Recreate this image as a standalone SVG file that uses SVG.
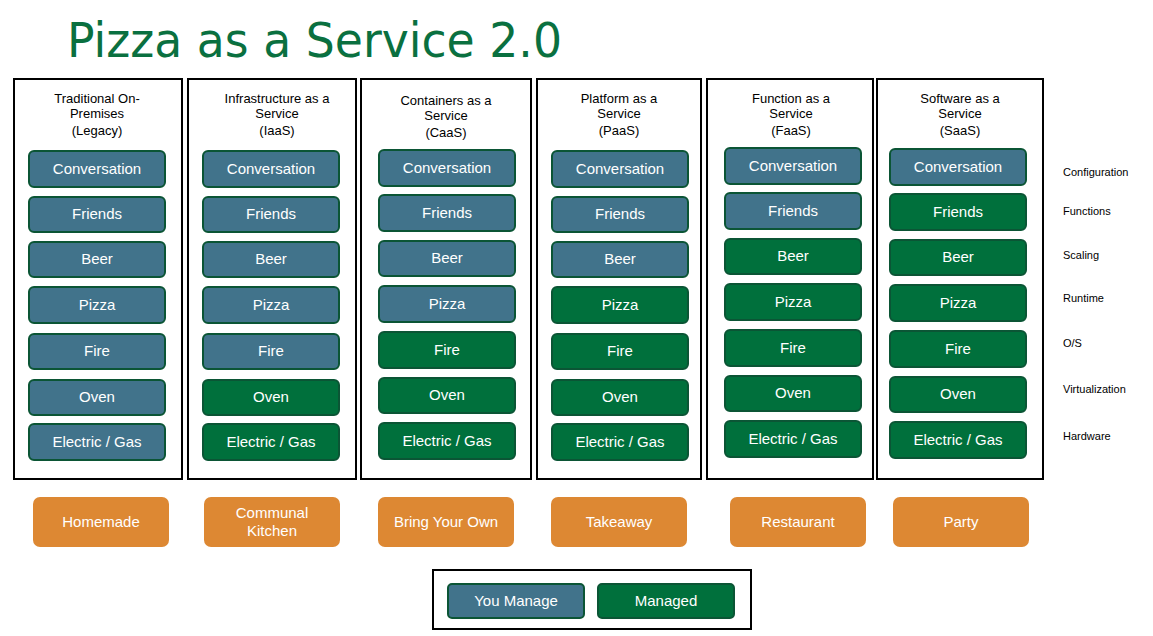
<svg xmlns="http://www.w3.org/2000/svg" width="1153" height="636" viewBox="0 0 1153 636">
<style>
text{font-family:"Liberation Sans",Arial,sans-serif}
.fr{fill:#fff;stroke:#000;stroke-width:2}
.b{fill:#41738b;stroke:#0b5535;stroke-width:2}
.g{fill:#00703c;stroke:#0b5535;stroke-width:2}
.o{fill:#dd8833}
.t{fill:#fff;font-size:15px;text-anchor:middle}
.h{fill:#000;font-size:13px;text-anchor:middle}
.r{fill:#000;font-size:11px}
</style>
<rect width="1153" height="636" fill="#fff"/>
<text x="67" y="57" font-size="48" fill="#0a7040" textLength="495" lengthAdjust="spacingAndGlyphs" style="font-family:'DejaVu Sans',sans-serif">Pizza as a Service 2.0</text>
<g id="col1">
<rect class="fr" x="14" y="79" width="168" height="400"/>
<text class="h" x="97" y="103">Traditional On-</text><text class="h" x="97" y="118">Premises</text><text class="h" x="97" y="135">(Legacy)</text>
<rect class="b" x="29" y="151" width="136" height="36" rx="5"/><text class="t" x="97" y="174">Conversation</text>
<rect class="b" x="29" y="197" width="136" height="35" rx="5"/><text class="t" x="97" y="219">Friends</text>
<rect class="b" x="29" y="242" width="136" height="35" rx="5"/><text class="t" x="97" y="264">Beer</text>
<rect class="b" x="29" y="287" width="136" height="36" rx="5"/><text class="t" x="97" y="310">Pizza</text>
<rect class="b" x="29" y="334" width="136" height="35" rx="5"/><text class="t" x="97" y="356">Fire</text>
<rect class="b" x="29" y="380" width="136" height="35" rx="5"/><text class="t" x="97" y="402">Oven</text>
<rect class="b" x="29" y="424" width="136" height="36" rx="5"/><text class="t" x="97" y="447">Electric / Gas</text>
</g>
<g id="col2">
<rect class="fr" x="188" y="79" width="168" height="400"/>
<text class="h" x="277" y="103">Infrastructure as a</text><text class="h" x="277" y="118">Service</text><text class="h" x="277" y="135">(IaaS)</text>
<rect class="b" x="203" y="151" width="136" height="36" rx="5"/><text class="t" x="271" y="174">Conversation</text>
<rect class="b" x="203" y="197" width="136" height="35" rx="5"/><text class="t" x="271" y="219">Friends</text>
<rect class="b" x="203" y="242" width="136" height="35" rx="5"/><text class="t" x="271" y="264">Beer</text>
<rect class="b" x="203" y="287" width="136" height="36" rx="5"/><text class="t" x="271" y="310">Pizza</text>
<rect class="b" x="203" y="334" width="136" height="35" rx="5"/><text class="t" x="271" y="356">Fire</text>
<rect class="g" x="203" y="380" width="136" height="35" rx="5"/><text class="t" x="271" y="402">Oven</text>
<rect class="g" x="203" y="424" width="136" height="36" rx="5"/><text class="t" x="271" y="447">Electric / Gas</text>
</g>
<g id="col3">
<rect class="fr" x="361" y="79" width="170" height="400"/>
<text class="h" x="446" y="105">Containers as a</text><text class="h" x="446" y="120">Service</text><text class="h" x="446" y="137">(CaaS)</text>
<rect class="b" x="379" y="150" width="136" height="36" rx="5"/><text class="t" x="447" y="173">Conversation</text>
<rect class="b" x="379" y="195" width="136" height="36" rx="5"/><text class="t" x="447" y="218">Friends</text>
<rect class="b" x="379" y="241" width="136" height="35" rx="5"/><text class="t" x="447" y="263">Beer</text>
<rect class="b" x="379" y="286" width="136" height="36" rx="5"/><text class="t" x="447" y="309">Pizza</text>
<rect class="g" x="379" y="332" width="136" height="36" rx="5"/><text class="t" x="447" y="355">Fire</text>
<rect class="g" x="379" y="378" width="136" height="35" rx="5"/><text class="t" x="447" y="400">Oven</text>
<rect class="g" x="379" y="423" width="136" height="36" rx="5"/><text class="t" x="447" y="446">Electric / Gas</text>
</g>
<g id="col4">
<rect class="fr" x="537" y="79" width="164" height="400"/>
<text class="h" x="619" y="103">Platform as a</text><text class="h" x="619" y="118">Service</text><text class="h" x="619" y="135">(PaaS)</text>
<rect class="b" x="552" y="151" width="136" height="36" rx="5"/><text class="t" x="620" y="174">Conversation</text>
<rect class="b" x="552" y="197" width="136" height="35" rx="5"/><text class="t" x="620" y="219">Friends</text>
<rect class="b" x="552" y="242" width="136" height="35" rx="5"/><text class="t" x="620" y="264">Beer</text>
<rect class="g" x="552" y="287" width="136" height="36" rx="5"/><text class="t" x="620" y="310">Pizza</text>
<rect class="g" x="552" y="334" width="136" height="35" rx="5"/><text class="t" x="620" y="356">Fire</text>
<rect class="g" x="552" y="380" width="136" height="35" rx="5"/><text class="t" x="620" y="402">Oven</text>
<rect class="g" x="552" y="424" width="136" height="36" rx="5"/><text class="t" x="620" y="447">Electric / Gas</text>
</g>
<g id="col5">
<rect class="fr" x="707" y="79" width="166" height="400"/>
<text class="h" x="791" y="103">Function as a</text><text class="h" x="791" y="118">Service</text><text class="h" x="791" y="135">(FaaS)</text>
<rect class="b" x="725" y="148" width="136" height="36" rx="5"/><text class="t" x="793" y="171">Conversation</text>
<rect class="b" x="725" y="193" width="136" height="36" rx="5"/><text class="t" x="793" y="216">Friends</text>
<rect class="g" x="725" y="239" width="136" height="35" rx="5"/><text class="t" x="793" y="261">Beer</text>
<rect class="g" x="725" y="284" width="136" height="36" rx="5"/><text class="t" x="793" y="307">Pizza</text>
<rect class="g" x="725" y="330" width="136" height="36" rx="5"/><text class="t" x="793" y="353">Fire</text>
<rect class="g" x="725" y="376" width="136" height="35" rx="5"/><text class="t" x="793" y="398">Oven</text>
<rect class="g" x="725" y="421" width="136" height="36" rx="5"/><text class="t" x="793" y="444">Electric / Gas</text>
</g>
<g id="col6">
<rect class="fr" x="877" y="79" width="166" height="400"/>
<text class="h" x="960" y="103">Software as a</text><text class="h" x="960" y="118">Service</text><text class="h" x="960" y="135">(SaaS)</text>
<rect class="b" x="890" y="149" width="136" height="36" rx="5"/><text class="t" x="958" y="172">Conversation</text>
<rect class="g" x="890" y="194" width="136" height="36" rx="5"/><text class="t" x="958" y="217">Friends</text>
<rect class="g" x="890" y="240" width="136" height="35" rx="5"/><text class="t" x="958" y="262">Beer</text>
<rect class="g" x="890" y="285" width="136" height="36" rx="5"/><text class="t" x="958" y="308">Pizza</text>
<rect class="g" x="890" y="331" width="136" height="36" rx="5"/><text class="t" x="958" y="354">Fire</text>
<rect class="g" x="890" y="377" width="136" height="35" rx="5"/><text class="t" x="958" y="399">Oven</text>
<rect class="g" x="890" y="422" width="136" height="36" rx="5"/><text class="t" x="958" y="445">Electric / Gas</text>
</g>
<g id="layers">
<text class="r" x="1063" y="176">Configuration</text>
<text class="r" x="1063" y="215">Functions</text>
<text class="r" x="1063" y="259">Scaling</text>
<text class="r" x="1063" y="302">Runtime</text>
<text class="r" x="1063" y="347">O/S</text>
<text class="r" x="1063" y="393">Virtualization</text>
<text class="r" x="1063" y="440">Hardware</text>
</g>
<g id="models">
<rect class="o" x="33" y="497" width="136" height="50" rx="7"/><text class="t" x="101" y="527">Homemade</text>
<rect class="o" x="204" y="497" width="136" height="50" rx="7"/><text class="t" x="272" y="518">Communal</text><text class="t" x="272" y="536">Kitchen</text>
<rect class="o" x="378" y="497" width="136" height="50" rx="7"/><text class="t" x="446" y="527">Bring Your Own</text>
<rect class="o" x="551" y="497" width="136" height="50" rx="7"/><text class="t" x="619" y="527">Takeaway</text>
<rect class="o" x="730" y="497" width="136" height="50" rx="7"/><text class="t" x="798" y="527">Restaurant</text>
<rect class="o" x="893" y="497" width="136" height="50" rx="7"/><text class="t" x="961" y="527">Party</text>
</g>
<g id="legend">
<rect class="fr" x="433" y="570" width="318" height="59"/>
<rect class="b" x="448" y="584" width="136" height="34" rx="4"/><text class="t" x="516" y="606">You Manage</text>
<rect class="g" x="598" y="584" width="136" height="34" rx="4"/><text class="t" x="666" y="606">Managed</text>
</g>
<g id="connectors"/>
</svg>
